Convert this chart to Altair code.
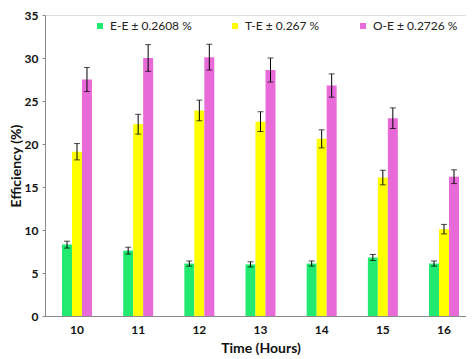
import altair as alt
import pandas as pd

hours = ["10", "11", "12", "13", "14", "15", "16"]
series = ["E-E ± 0.2608 %", "T-E ± 0.267 %", "O-E ± 0.2726 %"]
colors = ["#22ea70", "#ffff00", "#e86ad9"]
ee = [8.3, 7.6, 6.1, 6.0, 6.1, 6.8, 6.1]
te = [19.1, 22.3, 23.9, 22.6, 20.6, 16.1, 10.1]
oe = [27.5, 30.0, 30.1, 28.6, 26.8, 23.0, 16.2]
ee_err = [0.4, 0.4, 0.3, 0.3, 0.3, 0.35, 0.3]
te_err = [0.95, 1.15, 1.2, 1.15, 1.05, 0.85, 0.55]
oe_err = [1.4, 1.55, 1.5, 1.4, 1.35, 1.2, 0.8]

rows = []
for s, vals, errs in zip(series, [ee, te, oe], [ee_err, te_err, oe_err]):
    for i, h in enumerate(hours):
        rows.append({"hour": h, "series": s, "value": vals[i],
                     "lo": vals[i] - errs[i], "hi": vals[i] + errs[i]})
df = pd.DataFrame(rows)

FONT = "Lato"
x = alt.X("hour:N", sort=hours,
          scale=alt.Scale(paddingInner=0.51, paddingOuter=0.278, range=[0, 431]),
          axis=alt.Axis(title="Time (Hours)", labelAngle=0, ticks=False,
                        domainColor="#8a8a8a", labelFontWeight="bold",
                        labelFontSize=12, labelColor="#111", labelPadding=8,
                        titleFontSize=14, titleFontWeight="bold",
                        titlePadding=6, titleColor="#111", grid=False))
xo = alt.XOffset("series:N", sort=series)

base = alt.Chart(df)
bars = base.mark_bar().encode(
    x=x, xOffset=xo,
    y=alt.Y("value:Q", scale=alt.Scale(domain=[0, 35]),
            axis=alt.Axis(title="Efficiency  (%)", values=list(range(0, 36, 5)),
                          grid=False, domainColor="#8a8a8a", tickColor="#8a8a8a",
                          tickSize=3, labelFontWeight="bold", labelFontSize=12,
                          labelColor="#111", labelPadding=4,
                          titleFontSize=14, titleFontWeight="bold",
                          titleColor="#111", titlePadding=1)),
    color=alt.Color("series:N", sort=series,
                    scale=alt.Scale(domain=series, range=colors),
                    legend=alt.Legend(title=None, orient="none", direction="horizontal",
                                      legendX=49, legendY=5, padding=0,
                                      symbolType="square", symbolOffset=0,
                                      symbolSize=36, symbolStrokeWidth=0,
                                      labelOffset=4, labelFontSize=12, labelFont=FONT,
                                      labelColor="#222", columnPadding=37,
                                      symbolOpacity=1)),
)
rules = base.mark_rule(color="black", strokeWidth=1).encode(
    x=x, xOffset=xo, y="lo:Q", y2="hi:Q")
caps_hi = base.mark_tick(color="black", size=6, thickness=1).encode(
    x=x, xOffset=xo, y="hi:Q")
caps_lo = base.mark_tick(color="black", size=6, thickness=1).encode(
    x=x, xOffset=xo, y="lo:Q")

chart = alt.layer(bars, rules, caps_hi, caps_lo).properties(
    width=421, height=301,
    autosize=alt.AutoSizeParams(type="none"),
    padding={"left": 37, "top": 7, "right": 0, "bottom": 43},
).configure_view(stroke=None).configure(font=FONT)

chart.save("out.html", embed_options={"renderer": "svg", "actions": False})
